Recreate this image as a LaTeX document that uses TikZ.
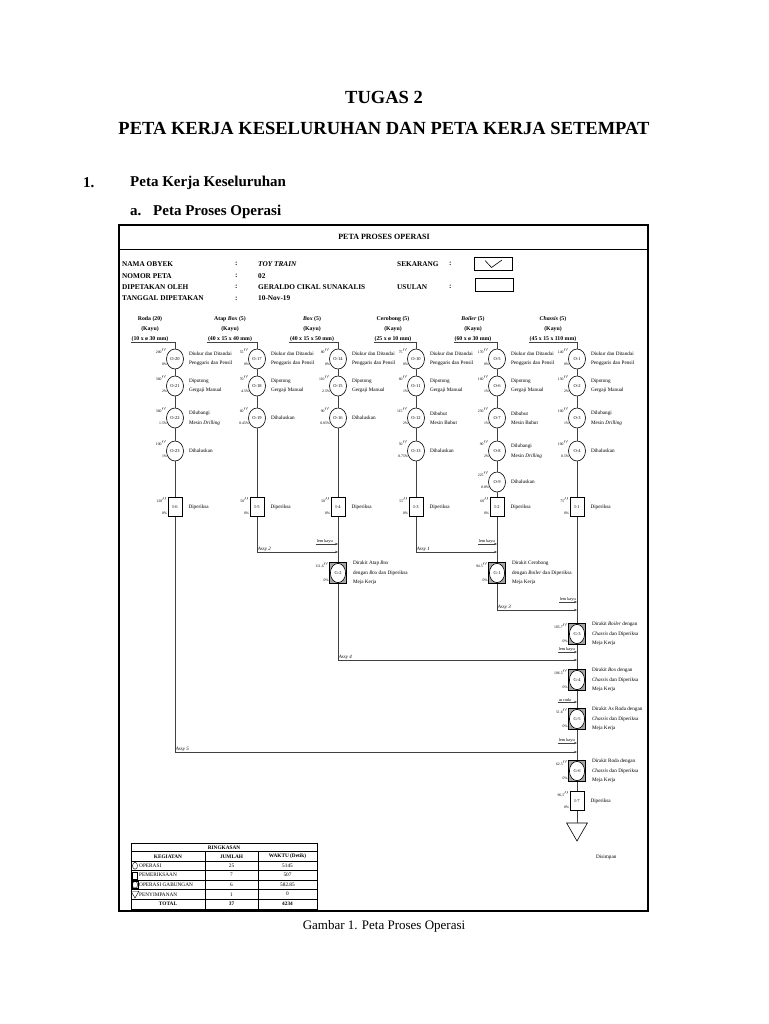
\documentclass[tikz,border=0pt]{standalone}
\usepackage{fontspec}
\setmainfont{Liberation Serif}
\usetikzlibrary{shapes.geometric,arrows.meta,positioning,calc}
\newcommand{\sek}{\ensuremath{''}}
\tikzset{
    ttl/.style = {font=\fontsize{18.5}{22}\selectfont\bfseries},
    sec/.style = {font=\fontsize{15}{18}\selectfont\bfseries, anchor=west, inner sep=0},
    info/.style = {font=\fontsize{7.3}{9}\selectfont\bfseries, anchor=west, inner sep=0},
    colhead/.style = {font=\fontsize{5.8}{10}\selectfont\bfseries, align=center, anchor=south, inner sep=0.5pt},
    opn/.style = {draw=black, line width=0.6pt, ellipse, minimum width=17pt, minimum height=20pt, inner sep=0, font=\fontsize{4.5}{5}\selectfont},
    insp/.style = {draw=black, line width=0.6pt, rectangle, minimum width=14pt, minimum height=19pt, inner sep=0, font=\fontsize{4.5}{5}\selectfont},
    comb/.style = {draw=black, line width=0.6pt, rectangle, minimum width=17pt, minimum height=21pt, inner sep=0, fill=black!35, font=\fontsize{4.5}{5}\selectfont,
        path picture={\draw[black, line width=0.6pt, fill=white] (path picture bounding box.center) ellipse (7.6pt and 9.6pt);}},
    combsm/.style = {draw=black, line width=0.4pt, rectangle, minimum width=6pt, minimum height=7pt, inner sep=0, fill=black!20,
        path picture={\draw[black, line width=0.3pt, fill=white] (path picture bounding box.center) ellipse (2.6pt and 3.3pt);}},
    store/.style = {draw=black, line width=0.6pt, regular polygon, regular polygon sides=3, shape border rotate=180, minimum size=24pt, inner sep=0},
    desc/.style = {font=\fontsize{5.2}{9.5}\selectfont, align=left, inner sep=0, anchor=west},
    tnum/.style = {font=\fontsize{3.8}{4}\selectfont, inner sep=0.4pt, anchor=south east},
    pnum/.style = {font=\fontsize{3.8}{4}\selectfont, inner sep=0.4pt, anchor=east},
    mat/.style = {font=\fontsize{4.3}{5}\selectfont, inner sep=0.6pt, anchor=south west},
    assy/.style = {font=\fontsize{5}{6}\selectfont\itshape, inner sep=0.6pt, anchor=south west},
    pline/.style = {draw=black!75, line width=0.6pt},
    feed/.style = {pline, -{Stealth[length=3pt, width=2.4pt]}},
    tbl/.style = {font=\fontsize{5.3}{6}\selectfont, inner sep=0},
    tblb/.style = {font=\fontsize{5.3}{6}\selectfont\bfseries, inner sep=0},
}

\begin{document}
\begin{tikzpicture}[x=1pt, y=-1pt]

\fill[white] (0,0) rectangle (768,1024);

% Headings
\node[ttl] (tugas) at (384,97) {TUGAS 2};
\node[ttl] (judul) at (384,128) {PETA KERJA KESELURUHAN DAN PETA KERJA SETEMPAT};
\node[sec] (no1) at (83,183) {1.};
\node[sec] (sub1) at (130,183) {Peta Kerja Keseluruhan};
\node[sec] (noa) at (130,212) {a.};
\node[sec] (suba) at (153,212) {Peta Proses Operasi};

% Frame and title bar
\draw[line width=1.3pt] (119,225) rectangle (648,911);
\draw[line width=0.8pt] (119,249) -- (648,249);
\node[font=\fontsize{8}{9}\selectfont\bfseries] (ppo) at (384,237) {PETA PROSES OPERASI};

% Chart info
\node[info] (nama) at (122,264) {NAMA OBYEK};
\node[info] (nomor) at (122,276) {NOMOR PETA};
\node[info] (oleh) at (122,287) {DIPETAKAN OLEH};
\node[info] (tgl) at (122,298) {TANGGAL DIPETAKAN};
\node[info] (k1) at (235,264) {:};
\node[info] (k2) at (235,276) {:};
\node[info] (k3) at (235,287) {:};
\node[info] (k4) at (235,299) {:};
\node[info] (vnama) at (258,264) {\textit{TOY TRAIN}};
\node[info] (vnomor) at (258,276) {02};
\node[info] (voleh) at (258,287) {GERALDO CIKAL SUNAKALIS};
\node[info] (vtgl) at (258,298) {10-Nov-19};
\node[info] (skr) at (397,264) {SEKARANG};
\node[info] (k5) at (449,264) {:};
\node[info] (usl) at (397,287) {USULAN};
\node[info] (k6) at (449,287) {:};
\node[draw, line width=0.6pt, minimum width=38pt, minimum height=13pt, inner sep=0] (boxskr) at (493,264) {};
\node[draw, line width=0.6pt, minimum width=38pt, minimum height=13pt, inner sep=0] (boxusl) at (494,285) {};
\draw[line width=0.6pt] (485,260.5) -- (491.5,267.5) -- (502,260);

% Column headers
\node[colhead] (h1) at (150,342) {Roda (20)\\(Kayu)\\(10 x ø 30 mm)};
\node[colhead] (h2) at (230,342) {Atap \textit{Box} (5)\\(Kayu)\\(40 x 15 x 40 mm)};
\node[colhead] (h3) at (312,342) {\textit{Box} (5)\\(Kayu)\\(40 x 15 x 50 mm)};
\node[colhead] (h4) at (393,342) {Cerobong (5)\\(Kayu)\\(25 x ø 10 mm)};
\node[colhead] (h5) at (473,342) {\textit{Boiler} (5)\\(Kayu)\\(60 x ø 30 mm)};
\node[colhead] (h6) at (553,342) {\textit{Chassis} (5)\\(Kayu)\\(45 x 15 x 110 mm)};

% Column Roda
\node[opn, label={[tnum]150:200\sek}, label={[pnum]218:0\%}] (o20) at (175,359) {O-20};
\node[opn, label={[tnum]150:360\sek}, label={[pnum]218:2\%}] (o21) at (175,386) {O-21};
\node[opn, label={[tnum]150:360\sek}, label={[pnum]218:1.5\%}] (o22) at (175,418) {O-22};
\node[opn, label={[tnum]150:100\sek}, label={[pnum]218:1\%}] (o23) at (175,451) {O-23};
\node[insp, label={[tnum]150:120\sek}, label={[pnum]220:0\%}] (i6) at (175,507) {I-6};
\node[desc, right=5pt of o20] (d20) {Diukur dan Ditandai\\Penggaris dan Pensil};
\node[desc, right=5pt of o21] (d21) {Dipotong\\Gergaji Manual};
\node[desc, right=5pt of o22] (d22) {Dilubangi\\Mesin \textit{Drilling}};
\node[desc, right=5pt of o23] (d23) {Dihaluskan};
\node[desc, right=6pt of i6] (di6) {Diperiksa};

% Column Atap Box
\node[opn, label={[tnum]150:55\sek}, label={[pnum]218:0\%}] (o17) at (257,359) {O-17};
\node[opn, label={[tnum]150:70\sek}, label={[pnum]218:4.5\%}] (o18) at (257,386) {O-18};
\node[opn, label={[tnum]150:60\sek}, label={[pnum]218:0.45\%}] (o19) at (257,418) {O-19};
\node[insp, label={[tnum]150:50\sek}, label={[pnum]220:0\%}] (i5) at (257,507) {I-5};
\node[desc, right=5pt of o17] (d17) {Diukur dan Ditandai\\Penggaris dan Pensil};
\node[desc, right=5pt of o18] (d18) {Dipotong\\Gergaji Manual};
\node[desc, right=5pt of o19] (d19) {Dihaluskan};
\node[desc, right=6pt of i5] (di5) {Diperiksa};

% Column Box
\node[opn, label={[tnum]150:80\sek}, label={[pnum]218:0\%}] (o14) at (338,359) {O-14};
\node[opn, label={[tnum]150:110\sek}, label={[pnum]218:2.5\%}] (o15) at (338,386) {O-15};
\node[opn, label={[tnum]150:90\sek}, label={[pnum]218:0.85\%}] (o16) at (338,418) {O-16};
\node[insp, label={[tnum]150:50\sek}, label={[pnum]220:0\%}] (i4) at (338,507) {I-4};
\node[desc, right=5pt of o14] (d14) {Diukur dan Ditandai\\Penggaris dan Pensil};
\node[desc, right=5pt of o15] (d15) {Dipotong\\Gergaji Manual};
\node[desc, right=5pt of o16] (d16) {Dihaluskan};
\node[desc, right=6pt of i4] (di4) {Diperiksa};

% Column Cerobong
\node[opn, label={[tnum]150:75\sek}, label={[pnum]218:0\%}] (o10) at (416,359) {O-10};
\node[opn, label={[tnum]150:60\sek}, label={[pnum]218:1\%}] (o11) at (416,386) {O-11};
\node[opn, label={[tnum]150:115\sek}, label={[pnum]218:2\%}] (o12) at (416,418) {O-12};
\node[opn, label={[tnum]150:50\sek}, label={[pnum]218:0.75\%}] (o13) at (416,451) {O-13};
\node[insp, label={[tnum]150:55\sek}, label={[pnum]220:0\%}] (i3) at (416,507) {I-3};
\node[desc, right=5pt of o10] (d10) {Diukur dan Ditandai\\Penggaris dan Pensil};
\node[desc, right=5pt of o11] (d11) {Dipotong\\Gergaji Manual};
\node[desc, right=5pt of o12] (d12) {Dibubut\\Mesin Bubut};
\node[desc, right=5pt of o13] (d13) {Dihaluskan};
\node[desc, right=6pt of i3] (di3) {Diperiksa};

% Column Boiler
\node[opn, label={[tnum]150:170\sek}, label={[pnum]218:0\%}] (o5) at (497,359) {O-5};
\node[opn, label={[tnum]150:160\sek}, label={[pnum]218:1\%}] (o6) at (497,386) {O-6};
\node[opn, label={[tnum]150:250\sek}, label={[pnum]218:1\%}] (o7) at (497,418) {O-7};
\node[opn, label={[tnum]150:90\sek}, label={[pnum]218:2\%}] (o8) at (497,451) {O-8};
\node[opn, label={[tnum]150:225\sek}, label={[pnum]218:0.8\%}] (o9) at (497,482) {O-9};
\node[insp, label={[tnum]150:60\sek}, label={[pnum]220:0\%}] (i2) at (497,507) {I-2};
\node[desc, right=5pt of o5] (d5) {Diukur dan Ditandai\\Penggaris dan Pensil};
\node[desc, right=5pt of o6] (d6) {Dipotong\\Gergaji Manual};
\node[desc, right=5pt of o7] (d7) {Dibubut\\Mesin Bubut};
\node[desc, right=5pt of o8] (d8) {Dilubangi\\Mesin \textit{Drilling}};
\node[desc, right=5pt of o9] (d9) {Dihaluskan};
\node[desc, right=6pt of i2] (di2) {Diperiksa};

% Column Chassis
\node[opn, label={[tnum]150:140\sek}, label={[pnum]218:0\%}] (o1) at (577,359) {O-1};
\node[opn, label={[tnum]150:150\sek}, label={[pnum]218:2\%}] (o2) at (577,386) {O-2};
\node[opn, label={[tnum]150:100\sek}, label={[pnum]218:1\%}] (o3) at (577,418) {O-3};
\node[opn, label={[tnum]150:100\sek}, label={[pnum]218:0.5\%}] (o4) at (577,451) {O-4};
\node[insp, label={[tnum]150:75\sek}, label={[pnum]220:0\%}] (i1) at (577,507) {I-1};
\node[desc, right=5pt of o1] (d1) {Diukur dan Ditandai\\Penggaris dan Pensil};
\node[desc, right=5pt of o2] (d2) {Dipotong\\Gergaji Manual};
\node[desc, right=5pt of o3] (d3) {Dilubangi\\Mesin \textit{Drilling}};
\node[desc, right=5pt of o4] (d4) {Dihaluskan};
\node[desc, right=6pt of i1] (di1) {Diperiksa};

% Assembly steps
\node[comb, label={[tnum]150:111.6\sek}, label={[pnum]218:0\%}] (g2) at (338,573) {G-2};
\node[comb, label={[tnum]150:94.5\sek}, label={[pnum]218:0\%}] (g1) at (497,573) {G-1};
\node[comb, label={[tnum]150:105.7\sek}, label={[pnum]218:0\%}] (g3) at (577,634) {G-3};
\node[comb, label={[tnum]150:106.5\sek}, label={[pnum]218:0\%}] (g4) at (577,680) {G-4};
\node[comb, label={[tnum]150:51.6\sek}, label={[pnum]218:0\%}] (g5) at (577,719) {G-5};
\node[comb, label={[tnum]150:62.5\sek}, label={[pnum]218:0\%}] (g6) at (577,771) {G-6};
\node[insp, label={[tnum]150:96.5\sek}, label={[pnum]220:0\%}] (i7) at (577,801) {I-7};
\node[store] (st) at (577,829) {};
\node[desc, right=6pt of g2] (dg2) {Dirakit Atap \textit{Box}\\dengan \textit{Box} dan Diperiksa\\Meja Kerja};
\node[desc, right=6pt of g1] (dg1) {Dirakit Cerobong\\dengan \textit{Boiler} dan Diperiksa\\Meja Kerja};
\node[desc, right=6pt of g3] (dg3) {Dirakit \textit{Boiler} dengan\\\textit{Chassis} dan Diperiksa\\Meja Kerja};
\node[desc, right=6pt of g4] (dg4) {Dirakit \textit{Box} dengan\\\textit{Chassis} dan Diperiksa\\Meja Kerja};
\node[desc, right=6pt of g5] (dg5) {Dirakit As Roda dengan\\\textit{Chassis} dan Diperiksa\\Meja Kerja};
\node[desc, right=6pt of g6] (dg6) {Dirakit Roda dengan\\\textit{Chassis} dan Diperiksa\\Meja Kerja};
\node[desc, right=6pt of i7] (di7) {Diperiksa};
\node[desc] (dst) at (596,857) {Disimpan};

% Flow lines down each column
\draw[pline] (h1.south west) -| (o20) -- (o21) -- (o22) -- (o23) -- (i6);
\draw[pline] (h2.south west) -| (o17) -- (o18) -- (o19) -- (i5);
\draw[pline] (h3.south west) -| (o14) -- (o15) -- (o16) -- (i4) -- (g2);
\draw[pline] (h4.south west) -| (o10) -- (o11) -- (o12) -- (o13) -- (i3);
\draw[pline] (h5.south west) -| (o5) -- (o6) -- (o7) -- (o8) -- (o9) -- (i2) -- (g1);
\draw[pline] (h6.south west) -| (o1) -- (o2) -- (o3) -- (o4) -- (i1) -- (g3) -- (g4) -- (g5) -- (g6) -- (i7) -- (st);

% Assembly joins
\coordinate (a1) at (497,552);
\coordinate (a2) at (338,552);
\coordinate (a3) at (577,610);
\coordinate (a4) at (577,660);
\coordinate (a5) at (577,752);
\draw[feed] (i3) |- node[assy, pos=0.5] (as1) {Assy 1} (a1);
\draw[feed] (i5) |- node[assy, pos=0.5] (as2) {Assy 2} (a2);
\draw[feed] (g1) |- node[assy, pos=0.5] (as3) {Assy 3} (a3);
\draw[feed] (g2) |- node[assy, pos=0.5] (as4) {Assy 4} (a4);
\draw[feed] (i6) |- node[assy, pos=0.5] (as5) {Assy 5} (a5);

% Material inputs
\node[mat] (lk1) at (316,544) {lem kayu};
\node[mat] (lk2) at (478,544) {lem kayu};
\node[mat] (lk3) at (559,602) {lem kayu};
\node[mat] (lk4) at (558,652) {lem kayu};
\node[mat] (asr) at (558,702) {as roda};
\node[mat] (lk5) at (558,743) {lem kayu};
\draw[feed] (lk1.south west) -- (lk1.south west -| o14);
\draw[feed] (lk2.south west) -- (lk2.south west -| o5);
\draw[feed] (lk3.south west) -- (lk3.south west -| o1);
\draw[feed] (lk4.south west) -- (lk4.south west -| o1);
\draw[feed] (asr.south west) -- (asr.south west -| o1);
\draw[feed] (lk5.south west) -- (lk5.south west -| o1);

% Summary table
\draw[line width=0.5pt] (131,843) rectangle (317,909)
    (131,851.5) -- (317,851.5) (131,861) -- (317,861) (131,870.5) -- (317,870.5)
    (131,880) -- (317,880) (131,889.5) -- (317,889.5) (131,899) -- (317,899)
    (205,851.5) -- (205,909) (258,851.5) -- (258,909);
\node[tblb] (rk) at (224,847.3) {RINGKASAN};
\node[tblb] (hk) at (168,856.3) {KEGIATAN};
\node[tblb] (hj) at (231.5,856.3) {JUMLAH};
\node[tblb] (hw) at (287.5,856.3) {WAKTU (Detik)};
\node[opn, line width=0.4pt, minimum width=5pt, minimum height=7pt] (sy1) at (135,865.75) {};
\node[insp, line width=0.4pt, minimum width=5pt, minimum height=7pt] (sy2) at (135,875.25) {};
\node[combsm] (sy3) at (135,884.75) {};
\node[store, line width=0.4pt, minimum size=9pt] (sy4) at (135,893.5) {};
\node[tbl, anchor=west] (r1) at (139,865.75) {OPERASI};
\node[tbl, anchor=west] (r2) at (139,875.25) {PEMERIKSAAN};
\node[tbl, anchor=west] (r3) at (139,884.75) {OPERASI GABUNGAN};
\node[tbl, anchor=west] (r4) at (139,894.25) {PENYIMPANAN};
\node[tblb] (r5) at (168,903.75) {TOTAL};
\node[tbl] (j1) at (231.5,865.75) {25};
\node[tbl] (j2) at (231.5,875.25) {7};
\node[tbl] (j3) at (231.5,884.75) {6};
\node[tbl] (j4) at (231.5,894.25) {1};
\node[tblb] (j5) at (231.5,903.75) {37};
\node[tbl] (w1) at (287.5,865.75) {5145};
\node[tbl] (w2) at (287.5,875.25) {507};
\node[tbl] (w3) at (287.5,884.75) {582.85};
\node[tbl] (w4) at (287.5,894.25) {0};
\node[tblb] (w5) at (287.5,903.75) {4234};

% Caption
\node[font=\fontsize{13}{15}\selectfont] (cap) at (384,926) {Gambar 1. Peta Proses Operasi};

\end{tikzpicture}
\end{document}
